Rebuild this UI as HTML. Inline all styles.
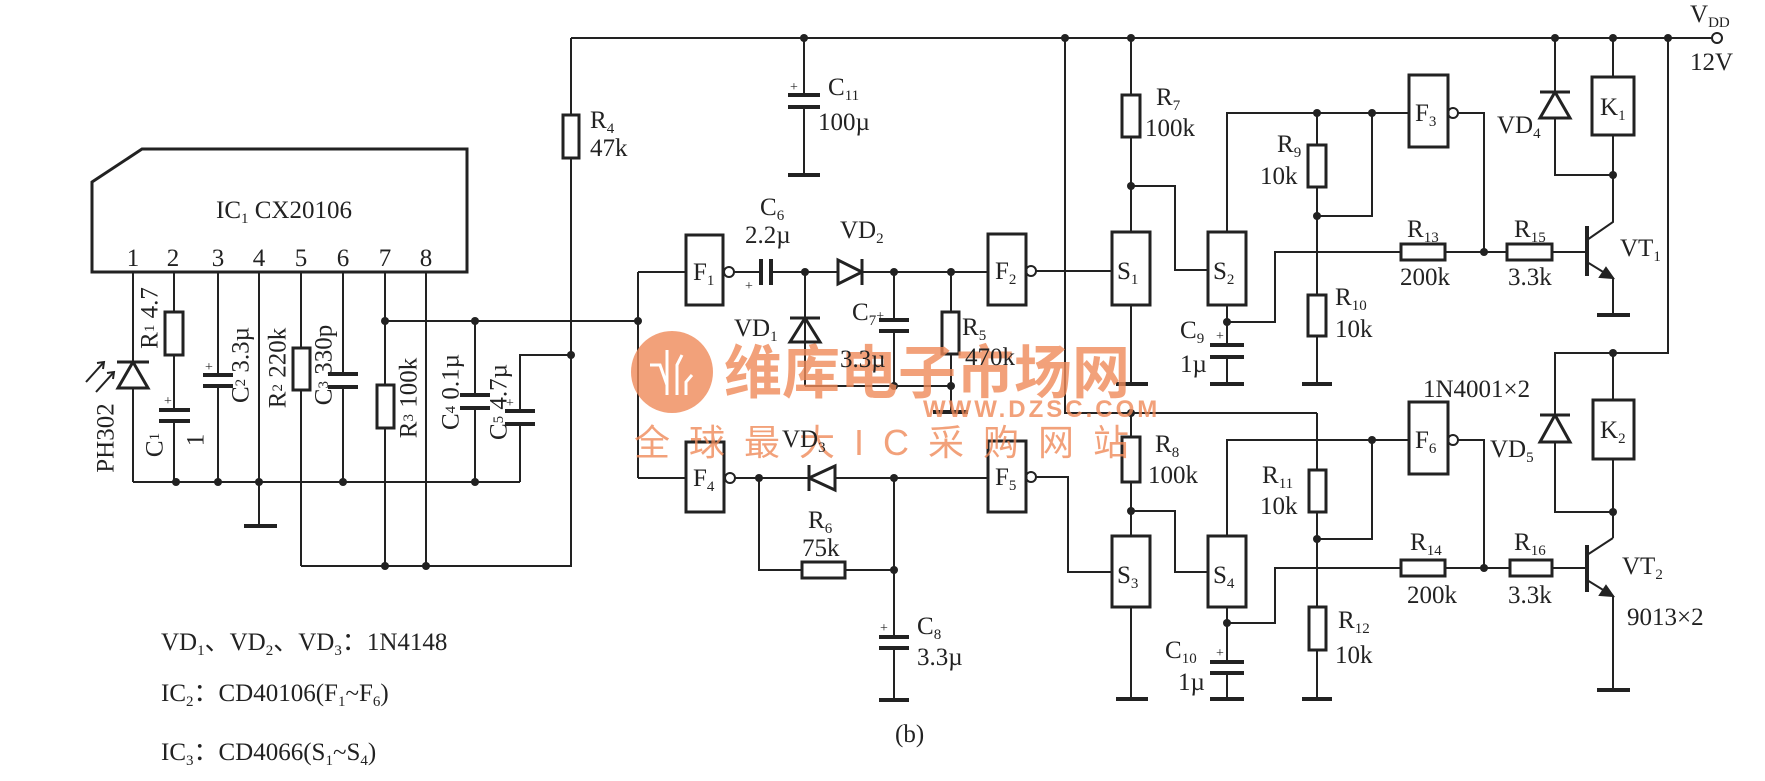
<!DOCTYPE html>
<html><head><meta charset="utf-8"><style>
html,body{margin:0;padding:0;background:#fff;}
svg{display:block;}
text{font-family:"Liberation Serif",serif;font-size:25px;fill:#222;}
.s{font-size:15px;}
.wm{font-family:"Liberation Sans","Noto Sans CJK SC",sans-serif;fill:#f08a5a;font-weight:bold;}
</style></head><body>
<svg width="1765" height="781" viewBox="0 0 1765 781" xmlns="http://www.w3.org/2000/svg">
<g stroke="#222" stroke-width="2" fill="none">
<line x1="571" y1="38" x2="1712" y2="38"/>
<circle cx="1717" cy="38" r="5" fill="#fff"/>
<polygon points="92,182 142,149 467,149 467,272 92,272" stroke-width="3"/>
<line x1="133" y1="272" x2="133" y2="362"/>
<line x1="117" y1="362" x2="149" y2="362" stroke-width="3"/>
<polygon points="133,362 118,388 148,388" stroke-width="3"/>
<line x1="133" y1="388" x2="133" y2="482"/>
<line x1="86" y1="382" x2="104" y2="362"/><polyline points="97,363 104,362 103,369"/>
<line x1="96" y1="392" x2="114" y2="372"/><polyline points="107,373 114,372 113,379"/>
<line x1="174" y1="272" x2="174" y2="312"/>
<rect x="165" y="312" width="18" height="43" stroke-width="3"/>
<line x1="174" y1="355" x2="174" y2="410"/>
<line x1="159" y1="410" x2="190" y2="410" stroke-width="4"/>
<line x1="159" y1="421" x2="190" y2="421" stroke-width="4"/>
<line x1="174" y1="421" x2="174" y2="482"/>
<line x1="218" y1="272" x2="218" y2="375"/>
<line x1="203" y1="375" x2="233" y2="375" stroke-width="4"/>
<line x1="203" y1="386" x2="233" y2="386" stroke-width="4"/>
<line x1="218" y1="386" x2="218" y2="482"/>
<line x1="259" y1="272" x2="259" y2="526"/>
<line x1="244" y1="526" x2="277" y2="526" stroke-width="4"/>
<line x1="301" y1="272" x2="301" y2="348"/>
<rect x="293" y="348" width="17" height="42" stroke-width="3"/>
<line x1="301" y1="390" x2="301" y2="566"/>
<line x1="343" y1="272" x2="343" y2="374"/>
<line x1="328" y1="374" x2="358" y2="374" stroke-width="4"/>
<line x1="328" y1="387" x2="358" y2="387" stroke-width="4"/>
<line x1="343" y1="387" x2="343" y2="482"/>
<line x1="385" y1="272" x2="385" y2="385"/>
<rect x="377" y="385" width="17" height="43" stroke-width="3"/>
<line x1="385" y1="428" x2="385" y2="566"/>
<line x1="426" y1="272" x2="426" y2="566"/>
<line x1="133" y1="482" x2="520" y2="482"/>
<line x1="385" y1="321" x2="638" y2="321"/>
<line x1="475" y1="321" x2="475" y2="395"/>
<line x1="460" y1="395" x2="490" y2="395" stroke-width="4"/>
<line x1="460" y1="408" x2="490" y2="408" stroke-width="4"/>
<line x1="475" y1="408" x2="475" y2="482"/>
<polyline points="571,355 520,355 520,411"/>
<line x1="505" y1="411" x2="535" y2="411" stroke-width="4"/>
<line x1="505" y1="424" x2="535" y2="424" stroke-width="4"/>
<line x1="520" y1="424" x2="520" y2="482"/>
<polyline points="301,566 571,566 571,158"/>
<rect x="563" y="115" width="16" height="43" stroke-width="3"/>
<line x1="571" y1="115" x2="571" y2="38"/>
<line x1="804" y1="38" x2="804" y2="95"/>
<line x1="788" y1="95" x2="820" y2="95" stroke-width="4"/>
<line x1="788" y1="107" x2="820" y2="107" stroke-width="4"/>
<line x1="804" y1="107" x2="804" y2="175"/>
<line x1="788" y1="175" x2="820" y2="175" stroke-width="4"/>
<line x1="638" y1="272" x2="638" y2="478"/>
<line x1="638" y1="272" x2="686" y2="272"/>
<line x1="638" y1="478" x2="686" y2="478"/>
<rect x="686" y="235" width="37" height="70" stroke-width="3"/>
<circle cx="729" cy="272" r="5"/>
<line x1="734" y1="272" x2="761" y2="272"/>
<line x1="761" y1="259" x2="761" y2="285" stroke-width="4"/>
<line x1="771" y1="259" x2="771" y2="285" stroke-width="4"/>
<line x1="771" y1="272" x2="838" y2="272"/>
<polygon points="838,260 838,284 862,272" stroke-width="3"/>
<line x1="862" y1="259" x2="862" y2="285" stroke-width="3"/>
<line x1="862" y1="272" x2="988" y2="272"/>
<line x1="805" y1="272" x2="805" y2="386"/>
<line x1="790" y1="318" x2="820" y2="318" stroke-width="3"/>
<polygon points="805,318 790,342 820,342" stroke-width="3"/>
<line x1="805" y1="386" x2="951" y2="386"/>
<line x1="894" y1="272" x2="894" y2="320"/>
<line x1="879" y1="320" x2="909" y2="320" stroke-width="4"/>
<line x1="879" y1="331" x2="909" y2="331" stroke-width="4"/>
<line x1="894" y1="331" x2="894" y2="386"/>
<line x1="951" y1="272" x2="951" y2="312"/>
<rect x="942" y="312" width="17" height="42" stroke-width="3"/>
<line x1="951" y1="354" x2="951" y2="412"/>
<line x1="933" y1="412" x2="968" y2="412" stroke-width="4"/>
<rect x="988" y="234" width="38" height="71" stroke-width="3"/>
<circle cx="1031" cy="271" r="5"/>
<line x1="1036" y1="271" x2="1112" y2="271"/>
<rect x="686" y="442" width="38" height="70" stroke-width="3"/>
<circle cx="730" cy="478" r="5"/>
<line x1="735" y1="478" x2="809" y2="478"/>
<line x1="809" y1="465" x2="809" y2="491" stroke-width="3"/>
<polygon points="809,478 835,466 835,490" stroke-width="3"/>
<line x1="835" y1="478" x2="988" y2="478"/>
<polyline points="759,478 759,570 802,570"/>
<rect x="802" y="562" width="43" height="16" stroke-width="3"/>
<line x1="845" y1="570" x2="894" y2="570"/>
<line x1="894" y1="478" x2="894" y2="637"/>
<line x1="879" y1="637" x2="909" y2="637" stroke-width="4"/>
<line x1="879" y1="648" x2="909" y2="648" stroke-width="4"/>
<line x1="894" y1="648" x2="894" y2="700"/>
<line x1="879" y1="700" x2="909" y2="700" stroke-width="4"/>
<rect x="988" y="441" width="38" height="71" stroke-width="3"/>
<circle cx="1031" cy="477" r="5"/>
<polyline points="1036,477 1068,477 1068,572 1112,572"/>
<polyline points="1065,38 1065,413 1317,413"/>
<line x1="1131" y1="38" x2="1131" y2="95"/>
<rect x="1122" y="95" width="18" height="42" stroke-width="3"/>
<line x1="1131" y1="137" x2="1131" y2="232"/>
<rect x="1112" y="232" width="38" height="73" stroke-width="3"/>
<line x1="1131" y1="305" x2="1131" y2="384"/>
<line x1="1116" y1="384" x2="1148" y2="384" stroke-width="4"/>
<polyline points="1131,186 1175,186 1175,270 1208,270"/>
<rect x="1208" y="232" width="38" height="73" stroke-width="3"/>
<polyline points="1227,232 1227,113 1409,113"/>
<line x1="1317" y1="113" x2="1317" y2="145"/>
<rect x="1308" y="145" width="18" height="42" stroke-width="3"/>
<line x1="1317" y1="187" x2="1317" y2="295"/>
<rect x="1308" y="295" width="18" height="41" stroke-width="3"/>
<line x1="1317" y1="336" x2="1317" y2="384"/>
<line x1="1302" y1="384" x2="1332" y2="384" stroke-width="4"/>
<polyline points="1317,216 1372,216 1372,113"/>
<line x1="1227" y1="305" x2="1227" y2="345"/>
<line x1="1210" y1="345" x2="1244" y2="345" stroke-width="4"/>
<line x1="1210" y1="357" x2="1244" y2="357" stroke-width="4"/>
<line x1="1227" y1="357" x2="1227" y2="384"/>
<line x1="1210" y1="384" x2="1244" y2="384" stroke-width="4"/>
<polyline points="1227,322 1275,322 1275,252 1401,252"/>
<rect x="1401" y="244" width="44" height="16" stroke-width="3"/>
<line x1="1445" y1="252" x2="1507" y2="252"/>
<rect x="1507" y="244" width="45" height="16" stroke-width="3"/>
<line x1="1552" y1="252" x2="1587" y2="252"/>
<rect x="1409" y="75" width="39" height="72" stroke-width="3"/>
<circle cx="1453" cy="113" r="5"/>
<polyline points="1458,113 1484,113 1484,252"/>
<line x1="1587" y1="226" x2="1587" y2="276" stroke-width="4"/>
<polyline points="1587,240 1613,222 1613,175"/>
<polyline points="1587,262 1613,278 1613,315"/>
<polygon points="1613,278 1600,277 1606,268" fill="#222"/>
<line x1="1597" y1="315" x2="1630" y2="315" stroke-width="4"/>
<line x1="1613" y1="38" x2="1613" y2="77"/>
<rect x="1592" y="77" width="42" height="58" stroke-width="3"/>
<line x1="1613" y1="135" x2="1613" y2="175"/>
<line x1="1555" y1="38" x2="1555" y2="92"/>
<line x1="1540" y1="92" x2="1570" y2="92" stroke-width="3"/>
<polygon points="1555,92 1540,118 1570,118" stroke-width="3"/>
<polyline points="1555,118 1555,175 1613,175"/>
<polyline points="1668,38 1668,353 1555,353 1555,415"/>
<line x1="1540" y1="415" x2="1570" y2="415" stroke-width="3"/>
<polygon points="1555,415 1540,442 1570,442" stroke-width="3"/>
<polyline points="1555,442 1555,512 1613,512"/>
<line x1="1613" y1="353" x2="1613" y2="400"/>
<rect x="1593" y="400" width="41" height="59" stroke-width="3"/>
<line x1="1613" y1="459" x2="1613" y2="538"/>
<line x1="1587" y1="545" x2="1587" y2="592" stroke-width="4"/>
<polyline points="1587,555 1613,538"/>
<polyline points="1587,580 1613,596 1613,690"/>
<polygon points="1613,596 1600,595 1606,586" fill="#222"/>
<line x1="1597" y1="690" x2="1630" y2="690" stroke-width="4"/>
<line x1="1552" y1="568" x2="1587" y2="568"/>
<rect x="1510" y="560" width="42" height="16" stroke-width="3"/>
<line x1="1445" y1="568" x2="1510" y2="568"/>
<rect x="1401" y="560" width="44" height="16" stroke-width="3"/>
<rect x="1409" y="402" width="39" height="72" stroke-width="3"/>
<circle cx="1453" cy="440" r="5"/>
<polyline points="1458,440 1484,440 1484,568"/>
<polyline points="1227,536 1227,440 1409,440"/>
<line x1="1317" y1="413" x2="1317" y2="470"/>
<rect x="1309" y="470" width="17" height="42" stroke-width="3"/>
<line x1="1317" y1="512" x2="1317" y2="607"/>
<rect x="1309" y="607" width="17" height="43" stroke-width="3"/>
<line x1="1317" y1="650" x2="1317" y2="699"/>
<line x1="1302" y1="699" x2="1332" y2="699" stroke-width="4"/>
<polyline points="1317,539 1372,539 1372,440"/>
<line x1="1131" y1="413" x2="1131" y2="437"/>
<rect x="1122" y="437" width="18" height="45" stroke-width="3"/>
<line x1="1131" y1="482" x2="1131" y2="536"/>
<rect x="1112" y="536" width="38" height="71" stroke-width="3"/>
<line x1="1131" y1="607" x2="1131" y2="699"/>
<line x1="1116" y1="699" x2="1148" y2="699" stroke-width="4"/>
<polyline points="1131,511 1175,511 1175,572 1208,572"/>
<rect x="1208" y="536" width="38" height="71" stroke-width="3"/>
<line x1="1227" y1="607" x2="1227" y2="662"/>
<line x1="1210" y1="662" x2="1244" y2="662" stroke-width="4"/>
<line x1="1210" y1="673" x2="1244" y2="673" stroke-width="4"/>
<line x1="1227" y1="673" x2="1227" y2="699"/>
<line x1="1210" y1="699" x2="1244" y2="699" stroke-width="4"/>
<polyline points="1227,623 1275,623 1275,568 1401,568"/>
</g>
<g fill="#222">
<circle cx="176" cy="482" r="4"/><circle cx="218" cy="482" r="4"/><circle cx="259" cy="482" r="4"/><circle cx="343" cy="482" r="4"/><circle cx="475" cy="482" r="4"/>
<circle cx="385" cy="321" r="4"/><circle cx="475" cy="321" r="4"/><circle cx="638" cy="321" r="4"/><circle cx="571" cy="355" r="4"/>
<circle cx="385" cy="566" r="4"/><circle cx="426" cy="566" r="4"/>
<circle cx="804" cy="38" r="4"/><circle cx="1065" cy="38" r="4"/><circle cx="1131" cy="38" r="4"/><circle cx="1555" cy="38" r="4"/><circle cx="1613" cy="38" r="4"/><circle cx="1668" cy="38" r="4"/>
<circle cx="805" cy="272" r="4"/><circle cx="894" cy="272" r="4"/><circle cx="951" cy="272" r="4"/><circle cx="894" cy="386" r="4"/><circle cx="951" cy="386" r="4"/>
<circle cx="759" cy="478" r="4"/><circle cx="894" cy="478" r="4"/><circle cx="894" cy="570" r="4"/>
<circle cx="1131" cy="186" r="4"/><circle cx="1317" cy="113" r="4"/><circle cx="1372" cy="113" r="4"/><circle cx="1317" cy="216" r="4"/><circle cx="1227" cy="322" r="4"/><circle cx="1484" cy="252" r="4"/><circle cx="1613" cy="175" r="4"/>
<circle cx="1613" cy="353" r="4"/><circle cx="1613" cy="512" r="4"/><circle cx="1484" cy="568" r="4"/><circle cx="1372" cy="440" r="4"/><circle cx="1317" cy="539" r="4"/><circle cx="1131" cy="413" r="4"/><circle cx="1131" cy="511" r="4"/><circle cx="1227" cy="623" r="4"/>
</g>
<g opacity="0.8">
<circle cx="672" cy="372" r="41" fill="#f08a5a"/>
<g stroke="#fff" stroke-width="3" fill="none"><polyline points="650,365 660,365 667,385"/><line x1="667" y1="350" x2="667" y2="395"/><polyline points="682,355 677,365 677,395"/><polyline points="692,375 686,382 686,395"/></g>
<text class="wm" x="724" y="393" style="font-size:58px;font-weight:bold">维库电子市场网</text>
<text class="wm" x="923" y="417" style="font-size:24px;font-weight:bold;letter-spacing:3px">WWW.DZSC.COM</text>
<text class="wm" x="634" y="455" style="font-size:36px;font-weight:normal;letter-spacing:19px">全球最大IC采购网站</text>
</g>
<text x="284" y="218" text-anchor="middle">IC<tspan class="s" dy="5">1</tspan><tspan dy="-5"> CX20106</tspan></text>
<g text-anchor="middle"><text x="133" y="266">1</text><text x="173" y="266">2</text><text x="218" y="266">3</text><text x="259" y="266">4</text><text x="301" y="266">5</text><text x="343" y="266">6</text><text x="385" y="266">7</text><text x="426" y="266">8</text></g>
<g text-anchor="middle" dominant-baseline="central">
<text transform="translate(106,438) rotate(-90)">PH302</text>
<text transform="translate(150,318) rotate(-90)">R<tspan class="s">1</tspan> 4.7</text>
<text transform="translate(155,445) rotate(-90)">C<tspan class="s">1</tspan></text>
<text transform="translate(196,440) rotate(-90)">1</text>
<text transform="translate(241,365) rotate(-90)">C<tspan class="s">2</tspan> 3.3µ</text>
<text transform="translate(278,368) rotate(-90)">R<tspan class="s">2</tspan> 220k</text>
<text transform="translate(324,365) rotate(-90)">C<tspan class="s">3</tspan> 330p</text>
<text transform="translate(409,398) rotate(-90)">R<tspan class="s">3</tspan> 100k</text>
<text transform="translate(451,392) rotate(-90)">C<tspan class="s">4</tspan> 0.1µ</text>
<text transform="translate(499,402) rotate(-90)">C<tspan class="s">5</tspan> 4.7µ</text>
</g>
<g><text x="164" y="405" style="font-size:14px">+</text><text x="205" y="371" style="font-size:14px">+</text><text x="506" y="407" style="font-size:14px">+</text><text x="790" y="91" style="font-size:14px">+</text><text x="745" y="290" style="font-size:14px">+</text><text x="1216" y="340" style="font-size:14px">+</text><text x="1216" y="657" style="font-size:14px">+</text><text x="880" y="632" style="font-size:14px">+</text></g>
<text x="590" y="128">R<tspan class="s" dy="5">4</tspan></text><text x="590" y="156">47k</text>
<text x="828" y="95">C<tspan class="s" dy="5">11</tspan></text><text x="818" y="130">100µ</text>
<text x="760" y="215">C<tspan class="s" dy="5">6</tspan></text><text x="745" y="243">2.2µ</text>
<text x="840" y="238">VD<tspan class="s" dy="5">2</tspan></text>
<text x="734" y="336">VD<tspan class="s" dy="5">1</tspan></text>
<text x="852" y="320">C<tspan class="s" dy="5">7</tspan><tspan dy="-5" style="font-size:14px">+</tspan></text>
<text x="840" y="367">3.3µ</text>
<text x="962" y="335">R<tspan class="s" dy="5">5</tspan></text><text x="965" y="365">470k</text>
<text x="995" y="279">F<tspan class="s" dy="5">2</tspan></text>
<text x="693" y="280">F<tspan class="s" dy="5">1</tspan></text>
<text x="693" y="486">F<tspan class="s" dy="5">4</tspan></text>
<text x="995" y="485">F<tspan class="s" dy="5">5</tspan></text>
<text x="782" y="447">VD<tspan class="s" dy="5">3</tspan></text>
<text x="808" y="528">R<tspan class="s" dy="5">6</tspan></text><text x="802" y="556">75k</text>
<text x="917" y="634">C<tspan class="s" dy="5">8</tspan></text><text x="917" y="665">3.3µ</text>
<text x="895" y="742">(b)</text>
<text x="1156" y="105">R<tspan class="s" dy="5">7</tspan></text><text x="1145" y="136">100k</text>
<text x="1117" y="279">S<tspan class="s" dy="5">1</tspan></text>
<text x="1213" y="279">S<tspan class="s" dy="5">2</tspan></text>
<text x="1117" y="583">S<tspan class="s" dy="5">3</tspan></text>
<text x="1213" y="583">S<tspan class="s" dy="5">4</tspan></text>
<text x="1415" y="121">F<tspan class="s" dy="5">3</tspan></text>
<text x="1415" y="448">F<tspan class="s" dy="5">6</tspan></text>
<text x="1277" y="152">R<tspan class="s" dy="5">9</tspan></text><text x="1260" y="184">10k</text>
<text x="1335" y="305">R<tspan class="s" dy="5">10</tspan></text><text x="1335" y="337">10k</text>
<text x="1180" y="338">C<tspan class="s" dy="5">9</tspan></text><text x="1180" y="372">1µ</text>
<text x="1407" y="237">R<tspan class="s" dy="5">13</tspan></text><text x="1400" y="285">200k</text>
<text x="1514" y="237">R<tspan class="s" dy="5">15</tspan></text><text x="1508" y="285">3.3k</text>
<text x="1620" y="256">VT<tspan class="s" dy="5">1</tspan></text>
<text x="1497" y="133">VD<tspan class="s" dy="5">4</tspan></text>
<text x="1600" y="115">K<tspan class="s" dy="5">1</tspan></text>
<text x="1690" y="22">V<tspan class="s" dy="5">DD</tspan></text>
<text x="1690" y="70">12V</text>
<text x="1423" y="397">1N4001×2</text>
<text x="1490" y="457">VD<tspan class="s" dy="5">5</tspan></text>
<text x="1600" y="438">K<tspan class="s" dy="5">2</tspan></text>
<text x="1622" y="574">VT<tspan class="s" dy="5">2</tspan></text>
<text x="1627" y="625">9013×2</text>
<text x="1410" y="550">R<tspan class="s" dy="5">14</tspan></text><text x="1407" y="603">200k</text>
<text x="1514" y="550">R<tspan class="s" dy="5">16</tspan></text><text x="1508" y="603">3.3k</text>
<text x="1155" y="452">R<tspan class="s" dy="5">8</tspan></text><text x="1148" y="483">100k</text>
<text x="1262" y="483">R<tspan class="s" dy="5">11</tspan></text><text x="1260" y="514">10k</text>
<text x="1338" y="628">R<tspan class="s" dy="5">12</tspan></text><text x="1335" y="663">10k</text>
<text x="1165" y="658">C<tspan class="s" dy="5">10</tspan></text><text x="1178" y="690">1µ</text>
<text x="161" y="650">VD<tspan class="s" dy="5">1</tspan><tspan dy="-5">、VD</tspan><tspan class="s" dy="5">2</tspan><tspan dy="-5">、VD</tspan><tspan class="s" dy="5">3</tspan><tspan dy="-5">：1N4148</tspan></text>
<text x="161" y="701">IC<tspan class="s" dy="5">2</tspan><tspan dy="-5">：CD40106(F</tspan><tspan class="s" dy="5">1</tspan><tspan dy="-5">~F</tspan><tspan class="s" dy="5">6</tspan><tspan dy="-5">)</tspan></text>
<text x="161" y="760">IC<tspan class="s" dy="5">3</tspan><tspan dy="-5">：CD4066(S</tspan><tspan class="s" dy="5">1</tspan><tspan dy="-5">~S</tspan><tspan class="s" dy="5">4</tspan><tspan dy="-5">)</tspan></text>
</svg>
</body></html>
